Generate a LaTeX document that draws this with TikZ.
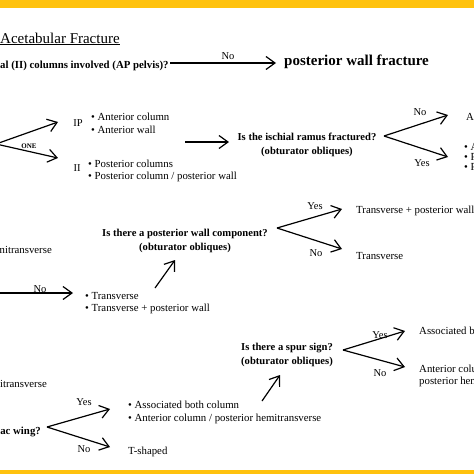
\documentclass[tikz,border=0pt]{standalone}
\usepackage{fontspec}
\setmainfont{Liberation Serif}
\usetikzlibrary{arrows.meta}
\definecolor{band}{HTML}{FFC20E}
\begin{document}
\begin{tikzpicture}[x=1pt,y=-1pt,
  txt/.style={inner sep=0pt,anchor=west,font=\fontsize{10.8}{12}\selectfont},
  txte/.style={txt,anchor=east},
  qst/.style={inner sep=0pt,align=center,font=\bfseries\fontsize{10.6}{13.5}\selectfont},
  lbl/.style={inner sep=0pt,font=\fontsize{10.5}{12}\selectfont},
  arr/.style={line width=1.2pt,-{Straight Barb[length=9pt,width=13pt]}}]
\useasboundingbox (0,0) rectangle (474,474);
\clip (0,0) rectangle (474,474);
\fill[white] (0,0) rectangle (474,474);
\fill[band] (0,0) rectangle (474,8);
\fill[band] (0,470) rectangle (474,474);
% title
\node[inner sep=0pt,anchor=west,font=\fontsize{15}{17}\selectfont] (title) at (0,39) {\underline{Acetabular Fracture}};
% first question
\node[inner sep=0pt,anchor=west,font=\bfseries\fontsize{10.8}{12}\selectfont] (q1) at (0,66) {al (II) columns involved (AP pelvis)?};
\coordinate (a1s) at (170,63);
\coordinate (a1e) at (276,63);
\draw[arr] (a1s) -- (a1e);
\node[lbl] (no1) at (228,56) {No};
\node[inner sep=0pt,anchor=west,font=\bfseries\fontsize{15}{17}\selectfont] (pwf) at (284,62) {posterior wall fracture};
% ONE branch
\coordinate (b1s) at (-4,144);
\coordinate (b1u) at (58,122);
\coordinate (b1d) at (58,158);
\draw[arr] (b1s) -- (b1u);
\draw[arr] (b1s) -- (b1d);
\node[inner sep=0pt,font=\bfseries\fontsize{7}{8}\selectfont] (one) at (29,146) {ONE};
\node[lbl] (ip) at (78,123) {IP};
\node[txt] (ac1) at (91,117) {• Anterior column};
\node[txt] (aw1) at (91,130) {• Anterior wall};
\node[lbl] (ii) at (77,168) {II};
\node[txt] (pc1) at (88,164) {• Posterior columns};
\node[txt] (pc2) at (88,177) {• Posterior column / posterior wall};
\coordinate (a2s) at (185,142);
\coordinate (a2e) at (229,142);
\draw[arr] (a2s) -- (a2e);
\node[qst] (q2) at (307,145) {Is the ischial ramus fractured?\\(obturator obliques)};
\coordinate (b2s) at (384,136);
\coordinate (b2u) at (448,115);
\coordinate (b2d) at (448,157);
\draw[arr] (b2s) -- (b2u);
\draw[arr] (b2s) -- (b2d);
\node[lbl] (no2) at (420,112) {No};
\node[lbl] (yes2) at (422,163) {Yes};
\node[txt] (r2a) at (466,117) {Anterior};
\node[txt] (r2b) at (464,147) {• Anterior};
\node[txt] (r2c) at (464,157) {• Posterior};
\node[txt] (r2d) at (464,167) {• Posterior};
% middle
\node[txte] (hemi1) at (52,250) {hemitransverse};
\coordinate (a3s) at (-2,293);
\coordinate (a3e) at (73,293);
\draw[arr] (a3s) -- (a3e);
\node[lbl] (no3) at (40,289) {No};
\node[txt] (tr1) at (85,296) {• Transverse};
\node[txt] (tr2) at (85,309) {• Transverse + posterior wall};
\coordinate (a4s) at (155,288);
\coordinate (a4e) at (175,260);
\draw[arr] (a4s) -- (a4e);
\node[qst] (q3) at (185,241) {Is there a posterior wall component?\\(obturator obliques)};
\coordinate (b3s) at (277,228);
\coordinate (b3u) at (342,209);
\coordinate (b3d) at (342,249);
\draw[arr] (b3s) -- (b3u);
\draw[arr] (b3s) -- (b3d);
\node[lbl] (yes3) at (315,206) {Yes};
\node[lbl] (no3b) at (316,253) {No};
\node[txt] (r3a) at (356,211) {Transverse + posterior wall};
\node[txt] (r3b) at (356,256) {Transverse};
% bottom
\node[txte] (hemi2) at (47,384) {hemitransverse};
\node[inner sep=0pt,anchor=east,font=\bfseries\fontsize{10.8}{12}\selectfont] (wing) at (41,432) {ac wing?};
\coordinate (b4s) at (47,427);
\coordinate (b4u) at (110,409);
\coordinate (b4d) at (110,447);
\draw[arr] (b4s) -- (b4u);
\draw[arr] (b4s) -- (b4d);
\node[lbl] (yes4) at (84,402) {Yes};
\node[lbl] (no4) at (84,449) {No};
\node[txt] (ab1) at (128,405) {• Associated both column};
\node[txt] (ab2) at (128,419) {• Anterior column / posterior hemitransverse};
\node[txt] (ts) at (128,452) {T-shaped};
\coordinate (a5s) at (262,401);
\coordinate (a5e) at (280,375);
\draw[arr] (a5s) -- (a5e);
\node[qst] (q4) at (287,355) {Is there a spur sign?\\(obturator obliques)};
\coordinate (b5s) at (343,350);
\coordinate (b5u) at (405,331);
\coordinate (b5d) at (405,367);
\draw[arr] (b5s) -- (b5u);
\draw[arr] (b5s) -- (b5d);
\node[lbl] (yes5) at (380,335) {Yes};
\node[lbl] (no5) at (380,373) {No};
\node[txt] (r5a) at (419,331) {Associated both column};
\node[txt] (r5b) at (419,369) {Anterior column /};
\node[txt] (r5c) at (419,382) {posterior hemitransverse};
\end{tikzpicture}
\end{document}
